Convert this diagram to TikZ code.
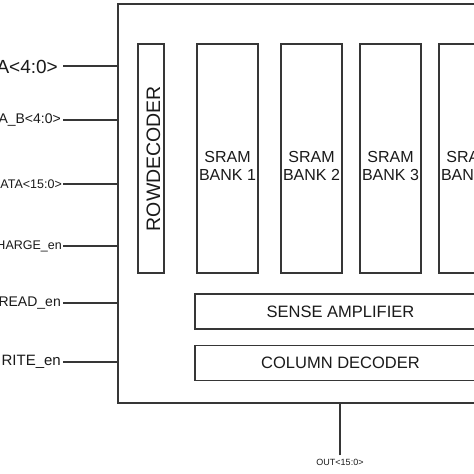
\documentclass[tikz,border=0pt]{standalone}
\usepackage{fontspec}
\setmainfont{Liberation Sans}
\usetikzlibrary{positioning,calc}
\definecolor{sramline}{HTML}{363636}
\definecolor{sramtext}{HTML}{1A1A1A}

\begin{document}
\begin{tikzpicture}[x=1pt,y=-1pt,
 every node/.style={text=sramtext},
 block/.style={draw=sramline,line width=1.2pt,rectangle,inner sep=0pt},
 bank/.style={block,minimum width=61pt,minimum height=229pt},
 banktext/.style={align=center,yshift=-7.5pt,font=\fontsize{16}{18}\selectfont},
 strip/.style={block,minimum width=291pt,minimum height=35pt,font=\fontsize{16.5}{18}\selectfont},
 pin/.style={anchor=east,inner sep=0pt,font=\fontsize{14}{16}\selectfont},
 wire/.style={draw=sramline,line width=1.2pt}]
\clip (0,0) rectangle (474,474);
\fill[white] (0,0) rectangle (474,474);

% chip outline
\node[block,line width=1.8pt,minimum width=400pt,minimum height=399pt,anchor=north west] (chip) at (117,3) {};

% row decoder and banks
\node[block,minimum width=26pt,minimum height=229pt,label={[font=\fontsize{19.5}{20}\selectfont,xshift=2.5pt]center:\rotatebox{90}{ROWDECODER}}] (rowdec) at (151,158.5) {};
\node[bank,label={[banktext]center:SRAM\\BANK 1}] (bank1) at (227.5,158.5) {};
\node[bank,label={[banktext]center:SRAM\\BANK 2}] (bank2) at (311.5,158.5) {};
\node[bank,label={[banktext]center:SRAM\\BANK 3}] (bank3) at (390.5,158.5) {};
\node[bank,label={[banktext]center:SRAM\\BANK 4}] (bank4) at (469.5,158.5) {};

% periphery
\node[strip] (sense) at (340.5,311.5) {SENSE AMPLIFIER};
\node[strip] (coldec) at (340.5,363) {COLUMN DECODER};

% input pins
\node[pin,font=\fontsize{19}{20}\selectfont] (pinaddr) at (58,67) {A<4:0>};
\node[pin] (pinaddrb) at (61,120) {A\_B<4:0>};
\node[pin,font=\fontsize{12.5}{14}\selectfont] (pindata) at (62,184) {ATA<15:0>};
\node[pin,font=\fontsize{12.5}{14}\selectfont] (pinpre) at (62,246) {HARGE\_en};
\node[pin] (pinread) at (61,303) {READ\_en};
\node[pin,font=\fontsize{15}{16}\selectfont] (pinwrite) at (61,362) {RITE\_en};
\foreach \p/\y in {pinaddr/66,pinaddrb/120,pindata/184,pinpre/246,pinread/303,pinwrite/362}
 \draw[wire] (63,\y) -- (chip.west |- 0,\y);

% output
\node[font=\fontsize{9}{10}\selectfont] (out) at (340,462) {OUT<15:0>};
\draw[wire] (out.north) -- (out.north |- chip.south);
\end{tikzpicture}
\end{document}
